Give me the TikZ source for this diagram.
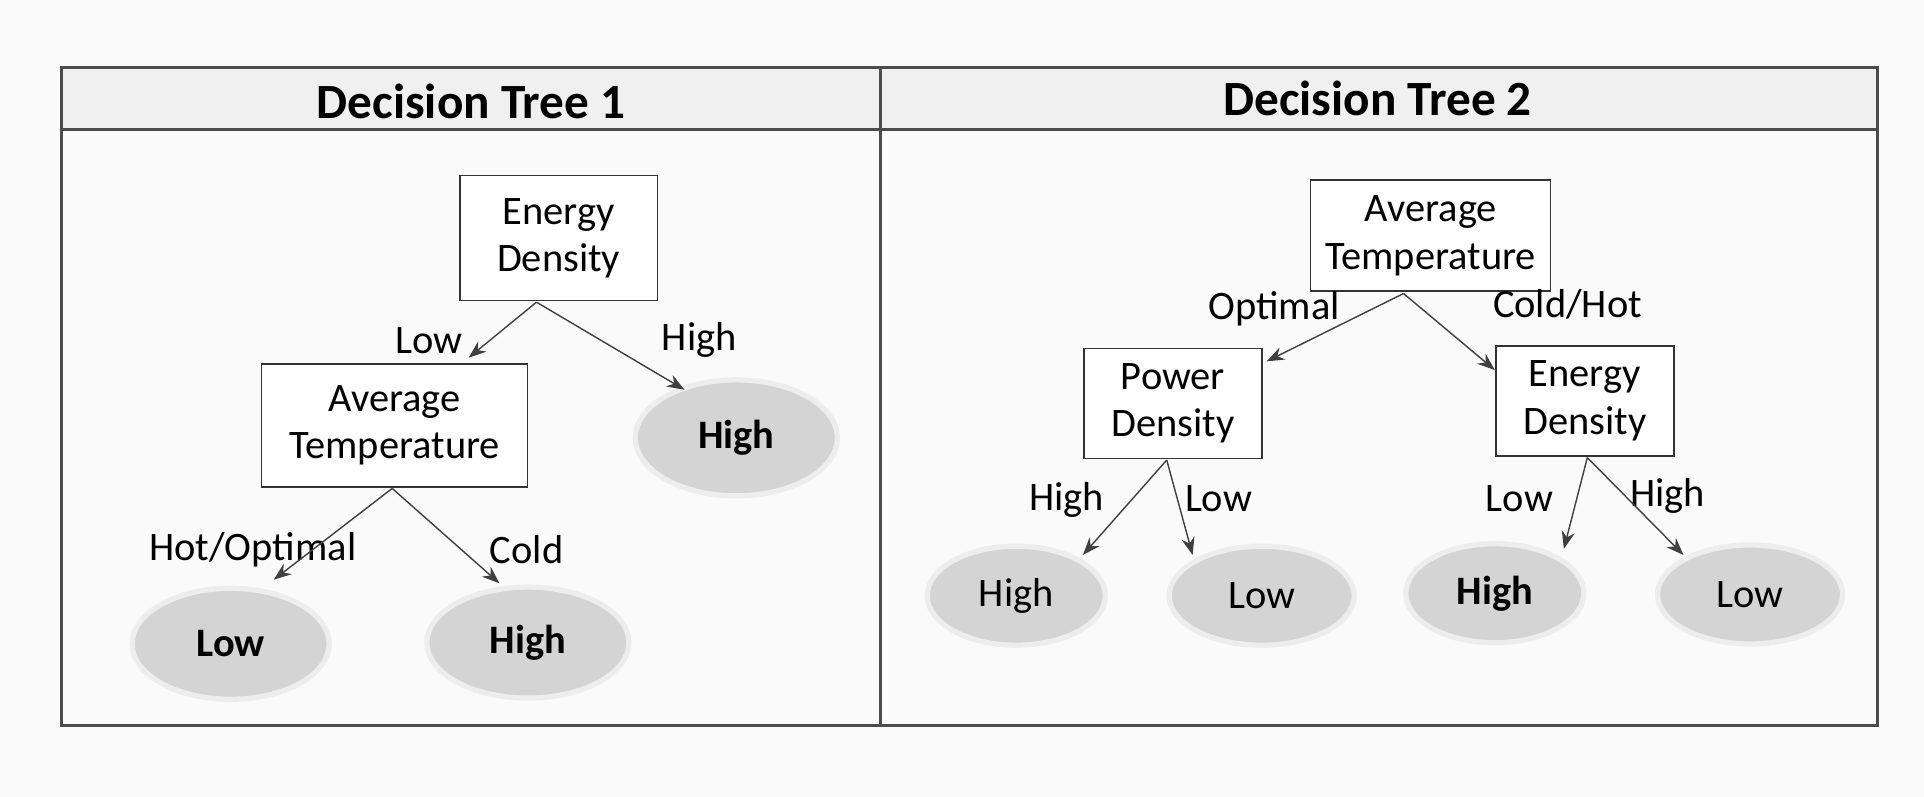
\documentclass[tikz,border=0pt]{standalone}
\usepackage{fontspec}
\setmainfont{Carlito}
\usetikzlibrary{shapes.geometric,arrows.meta}
\begin{document}
\begin{tikzpicture}[x=0.01233cm,y=-0.01233cm,
  box/.style={draw=black!80,fill=white,align=center,font=\fontsize{11.5}{13.5}\selectfont,inner sep=2pt},
  leaf/.style={ellipse,fill=black!17,draw=black!7,line width=1.5pt,font=\fontsize{11.5}{13.5}\selectfont},
  leafb/.style={leaf,font=\fontsize{11.5}{13.5}\selectfont\bfseries},
  lab/.style={font=\fontsize{11.5}{13.5}\selectfont},
  arr/.style={draw=black!75,-{Stealth[length=5pt]}},
  head/.style={font=\fontsize{14}{16}\selectfont\bfseries}]
\useasboundingbox (0,0) rectangle (1560,646);
\fill[black!2] (0,0) rectangle (1560,646);
% frame
\fill[black!6] (50,55) rectangle (1522,105);
\draw[black!70,line width=0.8pt] (50,55) rectangle (1522,588);
\draw[black!70,line width=0.8pt] (50,105) -- (1522,105);
\draw[black!70,line width=0.8pt] (714,55) -- (714,588);
\node[head] (h1) at (382,82) {Decision Tree 1};
\node[head] (h2) at (1117,80) {Decision Tree 2};
% tree 1
\node[box,minimum width=1.97cm,minimum height=1.25cm] (e1) at (453,193) {Energy\\Density};
\node[box,minimum width=2.66cm,minimum height=1.23cm] (a1) at (320,345) {Average\\Temperature};
\node[leafb,minimum width=2.02cm,minimum height=1.16cm] (l1) at (597,355) {High};
\node[leafb,minimum width=1.97cm,minimum height=1.11cm] (l2) at (187,522) {Low};
\node[leafb,minimum width=2.02cm,minimum height=1.11cm] (l3) at (428,521) {High};
\node[lab] at (348,276) {Low};
\node[lab] at (567,276) {High};
\node[lab] at (205,446) {Hot/Optimal};
\node[lab] at (427,446) {Cold};
\coordinate (e1s) at (435,245);
\coordinate (a1s) at (318,396);
\draw[arr] (e1s) -- (380,290);
\draw[arr] (e1s) -- (555,316);
\draw[arr] (a1s) -- (222,470);
\draw[arr] (a1s) -- (405,473);
% tree 2
\node[box,minimum width=2.4cm,minimum height=1.11cm] (a2) at (1160,191) {Average\\Temperature};
\node[box,minimum width=1.78cm,minimum height=1.1cm] (p2) at (951,327) {Power\\Density};
\node[box,minimum width=1.78cm,minimum height=1.1cm] (e2) at (1285,325) {Energy\\Density};
\node[leaf,minimum width=1.78cm,minimum height=0.99cm] (m1) at (824,483) {High};
\node[leaf,minimum width=1.85cm,minimum height=0.99cm] (m2) at (1023,483) {Low};
\node[leafb,minimum width=1.78cm,minimum height=0.99cm] (m3) at (1212,481) {High};
\node[leaf,minimum width=1.85cm,minimum height=0.99cm] (m4) at (1419,482) {Low};
\node[lab] at (1033,250) {Optimal};
\node[lab] at (1271,247) {Cold/Hot};
\node[lab] at (865,405) {High};
\node[lab] at (988,404) {Low};
\node[lab] at (1232,404) {Low};
\node[lab] at (1352,402) {High};
\coordinate (a2s) at (1138,238);
\coordinate (p2s) at (946,373);
\coordinate (e2s) at (1287,371);
\draw[arr] (a2s) -- (1027,293);
\draw[arr] (a2s) -- (1212,300);
\draw[arr] (p2s) -- (878,450);
\draw[arr] (p2s) -- (967,450);
\draw[arr] (e2s) -- (1268,445);
\draw[arr] (e2s) -- (1365,450);
\end{tikzpicture}
\end{document}
